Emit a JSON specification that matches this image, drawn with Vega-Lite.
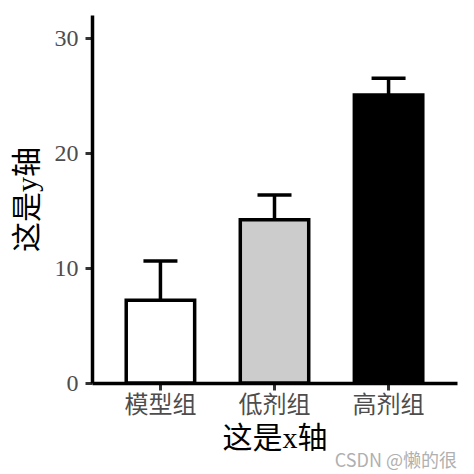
{
  "$schema": "https://vega.github.io/schema/vega-lite/v6.json",
  "autosize": "none",
  "width": 365,
  "height": 368,
  "padding": {"left": 92, "top": 15, "right": 17, "bottom": 91},
  "title": {
    "text": "CSDN @懒的很",
    "orient": "bottom",
    "anchor": "end",
    "font": "Noto Sans CJK SC",
    "fontSize": 18,
    "fontWeight": "normal",
    "color": "#b0b0b0",
    "offset": 0
  },
  "data": {
    "values": [
      {"group": "模型组", "mean": 7.2, "upper": 10.6},
      {"group": "低剂组", "mean": 14.2, "upper": 16.35},
      {"group": "高剂组", "mean": 25.05, "upper": 26.5}
    ]
  },
  "encoding": {
    "x": {
      "field": "group",
      "type": "nominal",
      "sort": ["模型组", "低剂组", "高剂组"],
      "scale": {"paddingInner": 0.4, "paddingOuter": 0.3},
      "title": "这是x轴",
      "axis": {"labelAngle": 0}
    }
  },
  "layer": [
    {
      "mark": {"type": "bar", "stroke": "black", "strokeWidth": 3.5},
      "encoding": {
        "y": {
          "field": "mean",
          "type": "quantitative",
          "scale": {"domain": [0, 32], "nice": false},
          "title": "这是y轴",
          "axis": {"values": [0, 10, 20, 30]}
        },
        "fill": {
          "field": "group",
          "type": "nominal",
          "scale": {"domain": ["模型组", "低剂组", "高剂组"], "range": ["#ffffff", "#cccccc", "#000000"]},
          "legend": null
        }
      }
    },
    {
      "mark": {"type": "rule", "color": "black", "strokeWidth": 3.5},
      "encoding": {
        "y": {"field": "mean", "type": "quantitative"},
        "y2": {"field": "upper"}
      }
    },
    {
      "mark": {"type": "tick", "color": "black", "thickness": 3.5, "size": 34, "opacity": 1},
      "encoding": {
        "y": {"field": "upper", "type": "quantitative"}
      }
    }
  ],
  "config": {
    "view": {"stroke": null},
    "axis": {
      "grid": false,
      "domainColor": "black",
      "domainWidth": 3.5,
      "tickColor": "#333333",
      "tickWidth": 3,
      "tickSize": 7,
      "labelFont": "Liberation Serif, Noto Sans CJK SC",
      "labelFontSize": 24,
      "labelColor": "#4d4d4d",
      "labelPadding": 3,
      "titleFont": "Liberation Serif, Noto Sans CJK SC",
      "titleFontSize": 30,
      "titleFontWeight": "normal",
      "titleColor": "black"
    },
    "axisX": {"titlePadding": 6},
    "axisY": {"labelPadding": 7, "titlePadding": 12}
  }
}
